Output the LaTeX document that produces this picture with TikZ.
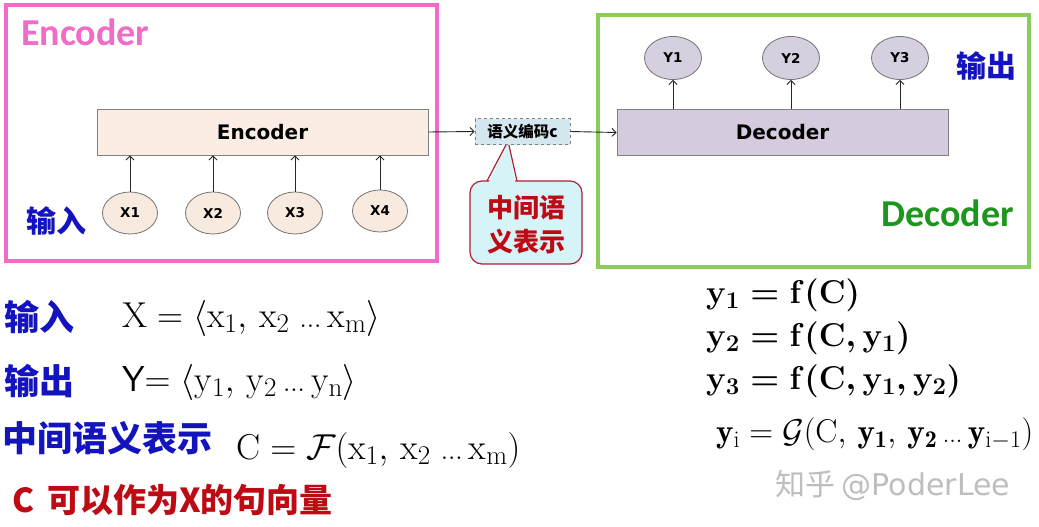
\documentclass[tikz,border=0pt]{standalone}
\usepackage{fix-cm}
\usepackage{amsmath}
\usepackage{fontspec}
\newfontfamily\cjk{Noto Sans CJK SC}
\newfontfamily\carl{Carlito}
\newfontfamily\dvs{DejaVu Sans}
\usetikzlibrary{arrows.meta,shapes.geometric}
\DeclareMathSizes{36}{36}{27}{20}
\DeclareMathSizes{33}{33}{24}{18}
\definecolor{pinkf}{RGB}{240,108,200}
\definecolor{greenf}{RGB}{140,204,90}
\definecolor{greent}{RGB}{30,150,30}
\definecolor{bluet}{RGB}{20,20,190}
\definecolor{redt}{RGB}{190,10,20}
\definecolor{encfill}{RGB}{251,237,227}
\definecolor{xfill}{RGB}{248,234,222}
\definecolor{decfill}{RGB}{212,204,222}
\definecolor{yfill}{RGB}{214,207,224}
\definecolor{cfill}{RGB}{214,244,248}
\definecolor{cborder}{RGB}{176,32,48}
\definecolor{dfill}{RGB}{212,230,238}
\definecolor{wm}{RGB}{190,190,190}
\newcommand{\fsz}[1]{\fontsize{#1}{#1}\selectfont}
\newcommand{\dts}{\,{\scriptstyle\ldots}\,}
\tikzset{
  frame/.style={draw, line width=4pt},
  boxstyle/.style={draw=black!50, line width=0.8pt, minimum width=331pt, minimum height=46pt, font=\dvs\bfseries\fsz{20}},
  circ/.style={ellipse, draw=black!55, line width=0.8pt, minimum width=55pt, minimum height=42pt, inner sep=0pt, font=\dvs\bfseries\fsz{13.5}},
  arr/.style={draw=black!85, line width=0.9pt, -{Straight Barb[length=4pt,width=8pt]}},
  txt/.style={anchor=west, inner sep=0pt},
  bluelab/.style={txt, text=bluet, font=\cjk\bfseries\fsz{35}},
  lmath/.style={txt, font=\fsz{36}},
  bmath/.style={txt, font=\fsz{33}\boldmath},
}
\begin{document}
\begin{tikzpicture}[x=1pt,y=-1pt]
\useasboundingbox (0,0) rectangle (1039,527);
\fill[white] (0,0) rectangle (1039,527);
% frames
\draw[frame, pinkf] (6,5) rectangle (437,261);
\draw[frame, greenf] (598,15) rectangle (1029,267);
\node[txt, text=pinkf, font=\carl\bfseries\fsz{38}] (enctitle) at (21,32) {Encoder};
\node[anchor=east, inner sep=0pt, text=greent, font=\carl\bfseries\fsz{38}] (dectitle) at (1014,213) {Decoder};
% encoder
\node[boxstyle, fill=encfill] (enc) at (262.5,132) {Encoder};
\node[circ, fill=xfill] (x1) at (130,213) {X1};
\node[circ, fill=xfill] (x2) at (213,213) {X2};
\node[circ, fill=xfill] (x3) at (295,213) {X3};
\node[circ, fill=xfill] (x4) at (380,211) {X4};
\foreach \i in {1,...,4} \draw[arr] (x\i.north) -- (x\i.north |- enc.south);
\node[txt, text=bluet, font=\cjk\bfseries\fsz{30}] (in1) at (26,221) {输入};
% callout
\coordinate (tip) at (508,141);
\draw[cborder, fill=cfill, line width=1.2pt, rounded corners=12pt] (470,181) rectangle (582,264);
\fill[cfill] (488.5,183) -- (tip) -- (515.5,183) -- cycle;
\draw[cborder, line width=1.2pt] (487,181) -- (tip) -- (517,181);
\node[inner sep=0pt, align=center, text=redt, font=\cjk\bfseries\fontsize{26}{34}\selectfont] (callout) at (526,225) {中间语\\义表示};
% code
\node[draw=black!50, dashed, line width=0.8pt, fill=dfill, minimum width=95pt, minimum height=26pt, inner sep=0pt, font=\cjk\bfseries\fsz{15.5}] (code) at (522.5,131.5) {语义编码c};
% decoder
\node[boxstyle, fill=decfill] (dec) at (782.5,132.5) {Decoder};
\node[circ, fill=yfill, minimum width=57pt, minimum height=43pt] (y1) at (673,58) {Y1};
\node[circ, fill=yfill, minimum width=57pt, minimum height=43pt] (y2) at (791,58) {Y2};
\node[circ, fill=yfill, minimum width=57pt, minimum height=43pt] (y3) at (900,58) {Y3};
\foreach \i in {1,2,3} \draw[arr] (y\i.south |- dec.north) -- (y\i.south);
\node[txt, text=bluet, font=\cjk\bfseries\fsz{30}] (out1) at (956,66) {输出};
\draw[arr] (enc.east) -- (code.west);
\draw[arr] (code.east) -- (dec.west);
% bottom left
\node[bluelab] (lin) at (4,317) {输入};
\node[lmath] (fx) at (122,318) {$\mathrm{X}=\langle \mathrm{x}_1,\,\mathrm{x}_2\;{\scriptstyle\ldots}\,\mathrm{x}_\mathrm{m}\rangle$};
\node[bluelab] (lout) at (4,381) {输出};
\node[lmath] (fy) at (122,382) {$\mathsf{Y}{=}\;\langle \mathrm{y}_1,\,\mathrm{y}_2\dts\mathrm{y}_\mathrm{n}\rangle$};
\node[bluelab] (lc) at (2,438) {中间语义表示};
\node[lmath] (fc) at (236,450) {$\mathrm{C}=\mathcal{F}(\mathrm{x}_1,\,\mathrm{x}_2\;{\scriptstyle\ldots}\,\mathrm{x}_\mathrm{m})$};
\node[txt, text=redt, font=\cjk\bfseries\fsz{33}] (lvec) at (12,500) {C\, 可以作为X的句向量};
% right formulas
\node[bmath] (r1) at (706,295) {$\mathbf{y}_{\mathbf{1}}=\mathbf{f}(\mathbf{C})$};
\node[bmath] (r2) at (706,338) {$\mathbf{y}_{\mathbf{2}}=\mathbf{f}(\mathbf{C},\mathbf{y}_{\mathbf{1}})$};
\node[bmath] (r3) at (706,381) {$\mathbf{y}_{\mathbf{3}}=\mathbf{f}(\mathbf{C},\mathbf{y}_{\mathbf{1}},\mathbf{y}_{\mathbf{2}})$};
\node[txt, font=\fsz{33}] (r4) at (716,434) {$\mathbf{y}_{\mathrm{i}}=\mathcal{G}(\mathrm{C},\,\mathbf{y}_{\mathbf{1}},\,\mathbf{y}_{\mathbf{2}}\dts\mathbf{y}_{\mathrm{i-1}})$};
\node[txt, text=wm, font=\cjk\fsz{30}] (wmk) at (775,485) {知乎 {\dvs @PoderLee}};
\end{tikzpicture}
\end{document}
